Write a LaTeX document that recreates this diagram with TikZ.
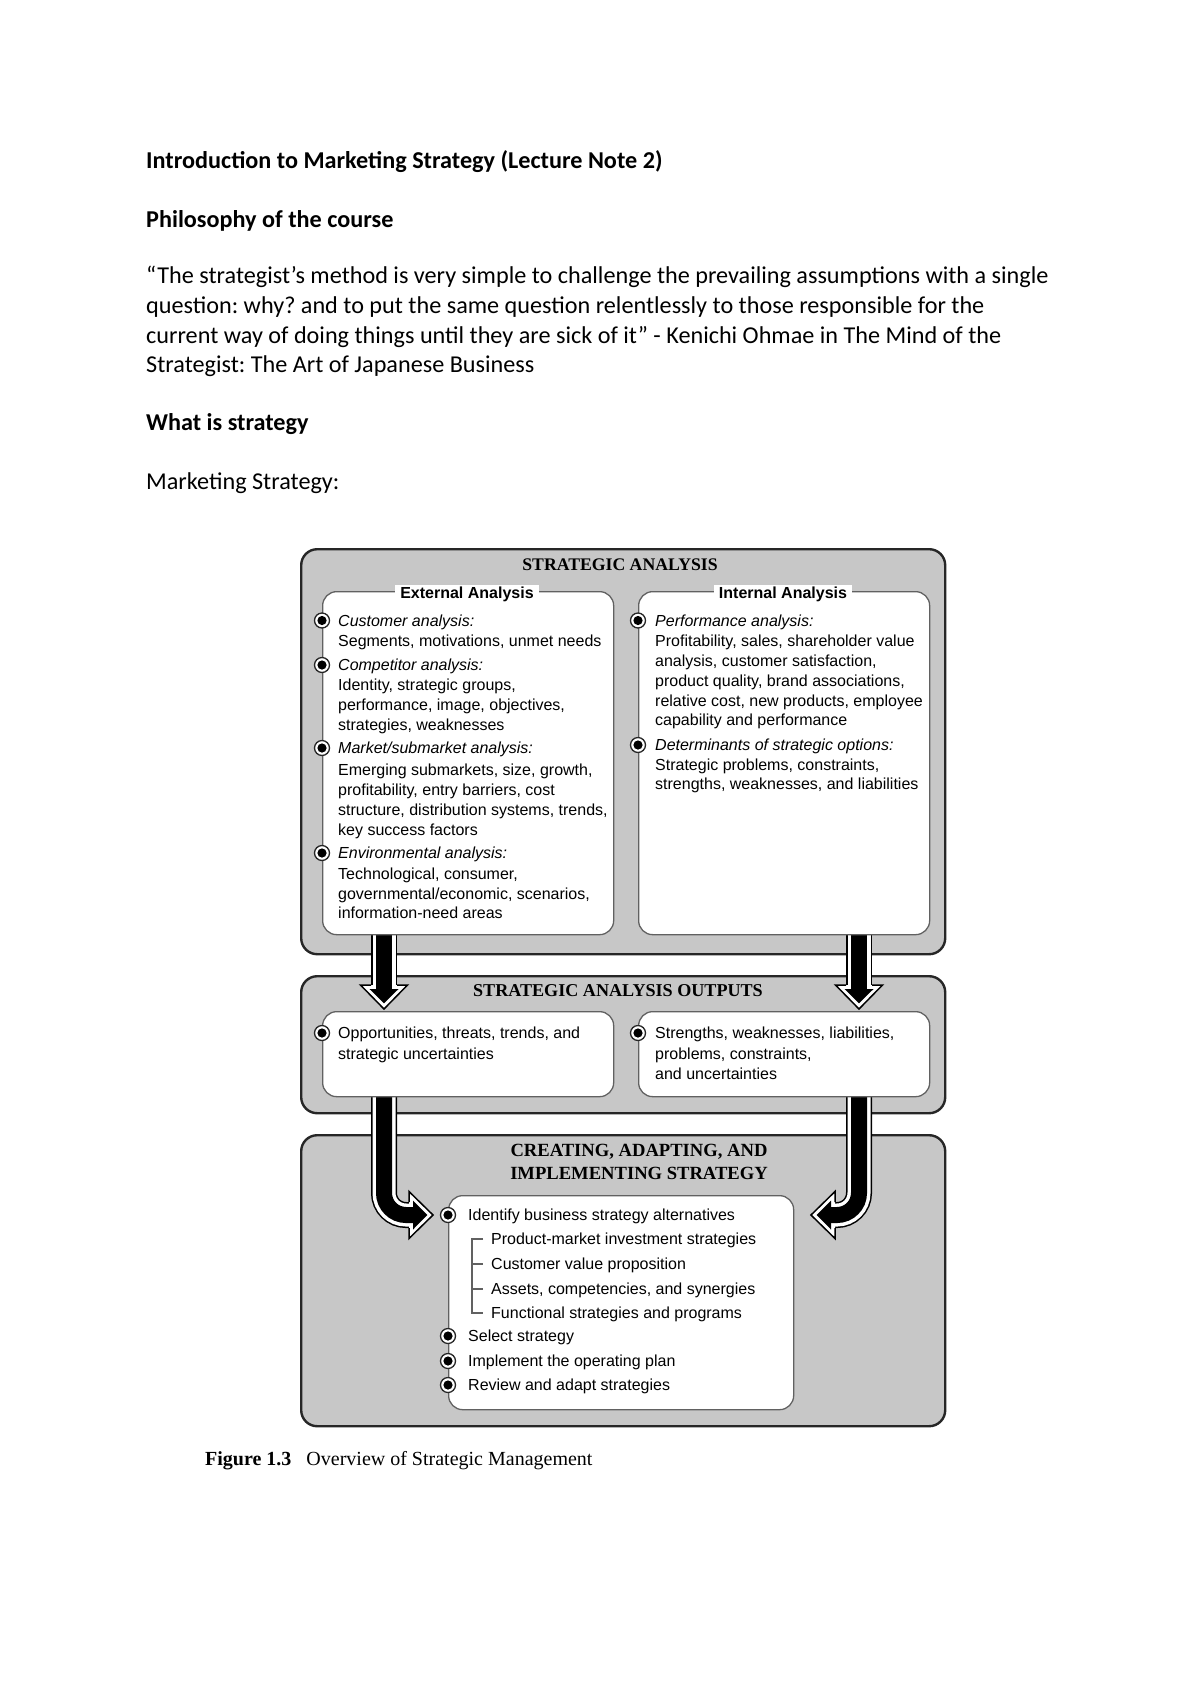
\documentclass[tikz,border=0pt]{standalone}
\usepackage{fontspec}
\setmainfont{Carlito}
\newfontfamily\dsans{Liberation Sans}
\newfontfamily\dserif{Liberation Serif}
\definecolor{panel}{gray}{0.78}
\definecolor{edge}{gray}{0.15}
\definecolor{inedge}{gray}{0.38}
\tikzset{
  doc/.style={anchor=base west, inner sep=0pt, font=\frenchspacing\fontsize{24.2}{29}\selectfont},
  docb/.style={anchor=base west, inner sep=0pt, font=\frenchspacing\fontsize{24.2}{29}\selectfont\bfseries},
  panelbox/.style={draw=edge, line width=2.4pt, fill=panel, rounded corners=16pt, anchor=north west, inner sep=0pt},
  innerbox/.style={draw=inedge, line width=1.3pt, fill=white, rounded corners=14pt, anchor=north west, inner sep=0pt},
  dtxt/.style={anchor=base west, inner sep=0pt, font=\dsans\fontsize{16}{20}\selectfont},
  dit/.style={anchor=base west, inner sep=0pt, font=\dsans\itshape\fontsize{16}{20}\selectfont},
  ptitle/.style={anchor=base, inner sep=0pt, font=\dserif\bfseries\fontsize{17.7}{21}\selectfont},
  ptitlebig/.style={anchor=base, inner sep=0pt, font=\dserif\bfseries\fontsize{18.6}{22}\selectfont},
  ititle/.style={anchor=base, fill=white, inner xsep=5pt, inner ysep=1.5pt, font=\dsans\bfseries\fontsize{16}{20}\selectfont},
  bul/.style={circle, draw=black!85, line width=1.3pt, fill=white, minimum size=15pt, inner sep=0pt,
     path picture={\fill[black] (path picture bounding box.center) circle (4.6pt);}},
  arrout/.style={line width=26pt, draw=black},
  arrwhite/.style={line width=23pt, draw=white},
  arrcore/.style={line width=16pt, draw=black},
  ahead/.pic={
     \fill[white] (-23.5,0) -- (0,24) -- (23.5,0) -- cycle;
     \draw[black, line width=1.5pt, line join=miter] (-13,0) -- (-23.5,0) -- (0,24) -- (23.5,0) -- (13,0);
     \fill[black] (-14.5,4) -- (0,18.3) -- (14.5,4) -- cycle;
  },
  bracket/.style={draw=inedge, line width=1.2pt},
}
\begin{document}
\begin{tikzpicture}[x=1pt,y=-1pt]
\fill[white] (0,0) rectangle (1200,1698);
\useasboundingbox (0,0) rectangle (1200,1698);
% top text
\node[docb] (h1) at (146,168.5) {Introduction to Marketing Strategy (Lecture Note 2)};
\node[docb] (h2) at (146,227.5) {Philosophy of the course};
\node[doc] (q1) at (146,283.5) {“The strategist’s method is very simple to challenge the prevailing assumptions with a single};
\node[doc] (q2) at (146,313.5) {question: why? and to put the same question relentlessly to those responsible for the};
\node[doc] (q3) at (146,343) {current way of doing things until they are sick of it” - Kenichi Ohmae in The Mind of the};
\node[doc] (q4) at (146,372.5) {Strategist: The Art of Japanese Business};
\node[docb] (h3) at (146,430.5) {What is strategy};
\node[doc] (h4) at (146,489.5) {Marketing Strategy:};
% panels
\node[panelbox, minimum width=644pt, minimum height=405pt] (sa) at (300,548) {};
\node[panelbox, minimum width=644pt, minimum height=137pt] (sao) at (300,975) {};
\node[panelbox, minimum width=644pt, minimum height=291pt] (cas) at (300,1134) {};
% arrows
\coordinate (a1s) at (384,926); \coordinate (a1h) at (384,985);
\draw[arrout] (a1s) -- (a1h); \draw[arrwhite] (a1s) -- (a1h);
\pic at (a1h) {ahead};
\draw[arrcore] (a1s) -- ([yshift=-5pt]a1h);
\coordinate (a2s) at (859,926); \coordinate (a2h) at (859,985);
\draw[arrout] (a2s) -- (a2h); \draw[arrwhite] (a2s) -- (a2h);
\pic at (a2h) {ahead};
\draw[arrcore] (a2s) -- ([yshift=-5pt]a2h);
\coordinate (a3s) at (384,1088); \coordinate (a3c) at (384,1215); \coordinate (a3h) at (409,1215);
\draw[arrout, rounded corners=22pt] (a3s) -- (a3c) -- (a3h);
\draw[arrwhite, rounded corners=22pt] (a3s) -- (a3c) -- (a3h);
\pic[rotate=90] at (a3h) {ahead};
\draw[arrcore, rounded corners=22pt] (a3s) -- (a3c) -- ([xshift=5pt]a3h);
\coordinate (a4s) at (859,1088); \coordinate (a4c) at (859,1215); \coordinate (a4h) at (835,1215);
\draw[arrout, rounded corners=22pt] (a4s) -- (a4c) -- (a4h);
\draw[arrwhite, rounded corners=22pt] (a4s) -- (a4c) -- (a4h);
\pic[rotate=-90] at (a4h) {ahead};
\draw[arrcore, rounded corners=22pt] (a4s) -- (a4c) -- ([xshift=-5pt]a4h);
% inner boxes
\node[innerbox, minimum width=291pt, minimum height=343pt] (ext) at (322,591) {};
\node[innerbox, minimum width=291pt, minimum height=343pt] (int) at (638,591) {};
\node[innerbox, minimum width=291pt, minimum height=85pt] (outl) at (322,1011) {};
\node[innerbox, minimum width=291pt, minimum height=85pt] (outr) at (638,1011) {};
\node[innerbox, minimum width=345pt, minimum height=214pt] (alt) at (448,1195) {};
% titles
\node[ptitle] (t1) at (620,570) {STRATEGIC ANALYSIS};
\node[ititle] (t2) at (467,598.5) {External Analysis};
\node[ititle] (t3) at (783,598.5) {Internal Analysis};
\node[ptitle, font=\dserif\bfseries\fontsize{18.1}{21}\selectfont] (t4) at (618,996) {STRATEGIC ANALYSIS OUTPUTS};
\node[ptitlebig] (t5) at (639,1156.5) {CREATING, ADAPTING, AND};
\node[ptitlebig] (t6) at (639,1179.5) {IMPLEMENTING STRATEGY};
% external
\node[bul] (eb1) at (322,620.5) {};
\node[dit] (e1) at (338,626) {Customer analysis:};
\node[dtxt] (e2) at (338,646) {Segments, motivations, unmet needs};
\node[bul] (eb2) at (322,665) {};
\node[dit] (e3) at (338,670.5) {Competitor analysis:};
\node[dtxt] (e4) at (338,690.5) {Identity, strategic groups,};
\node[dtxt] (e5) at (338,710) {performance, image, objectives,};
\node[dtxt] (e6) at (338,730) {strategies, weaknesses};
\node[bul] (eb3) at (322,748) {};
\node[dit] (e7) at (338,753.5) {Market/submarket analysis:};
\node[dtxt] (e8) at (338,775) {Emerging submarkets, size, growth,};
\node[dtxt] (e9) at (338,795) {profitability, entry barriers, cost};
\node[dtxt] (e10) at (338,815) {structure, distribution systems, trends,};
\node[dtxt] (e11) at (338,835) {key success factors};
\node[bul] (eb4) at (322,853) {};
\node[dit] (e12) at (338,858.5) {Environmental analysis:};
\node[dtxt] (e13) at (338,879) {Technological, consumer,};
\node[dtxt] (e14) at (338,899) {governmental/economic, scenarios,};
\node[dtxt] (e15) at (338,918.5) {information-need areas};
% internal
\node[bul] (ib1) at (638,620.5) {};
\node[dit] (i1) at (655,626) {Performance analysis:};
\node[dtxt] (i2) at (655,646) {Profitability, sales, shareholder value};
\node[dtxt] (i3) at (655,666) {analysis, customer satisfaction,};
\node[dtxt] (i4) at (655,686) {product quality, brand associations,};
\node[dtxt] (i5) at (655,706) {relative cost, new products, employee};
\node[dtxt] (i6) at (655,725.5) {capability and performance};
\node[bul] (ib2) at (638,745) {};
\node[dit] (i7) at (655,750.5) {Determinants of strategic options:};
\node[dtxt] (i8) at (655,770) {Strategic problems, constraints,};
\node[dtxt] (i9) at (655,789.5) {strengths, weaknesses, and liabilities};
% outputs
\node[bul] (ob1) at (322,1033) {};
\node[dtxt] (o1) at (338,1038.5) {Opportunities, threats, trends, and};
\node[dtxt] (o2) at (338,1059) {strategic uncertainties};
\node[bul] (ob2) at (638,1033) {};
\node[dtxt] (o3) at (655,1038.5) {Strengths, weaknesses, liabilities,};
\node[dtxt] (o4) at (655,1059) {problems, constraints,};
\node[dtxt] (o5) at (655,1079.5) {and uncertainties};
% strategy
\node[bul] (cb1) at (448,1215) {};
\node[dtxt] (c1) at (468,1220.5) {Identify business strategy alternatives};
\node[dtxt] (c2) at (491,1244.5) {Product-market investment strategies};
\node[dtxt] (c3) at (491,1269.5) {Customer value proposition};
\node[dtxt] (c4) at (491,1294) {Assets, competencies, and synergies};
\node[dtxt] (c5) at (491,1318.5) {Functional strategies and programs};
\node[bul] (cb2) at (448,1336) {};
\node[dtxt] (c6) at (468,1341.5) {Select strategy};
\node[bul] (cb3) at (448,1361) {};
\node[dtxt] (c7) at (468,1366.5) {Implement the operating plan};
\node[bul] (cb4) at (448,1385) {};
\node[dtxt] (c8) at (468,1390.5) {Review and adapt strategies};
\draw[bracket] (483,1239) -- (472,1239) -- (472,1313) -- (483,1313);
\draw[bracket] (472,1264) -- (483,1264);
\draw[bracket] (472,1289) -- (483,1289);
% caption
\node[anchor=base west, inner sep=0pt, font=\dserif\fontsize{20}{24}\selectfont] (cap) at (205,1465) {\textbf{Figure 1.3}\hspace{15pt}Overview of Strategic Management};
\end{tikzpicture}
\end{document}
